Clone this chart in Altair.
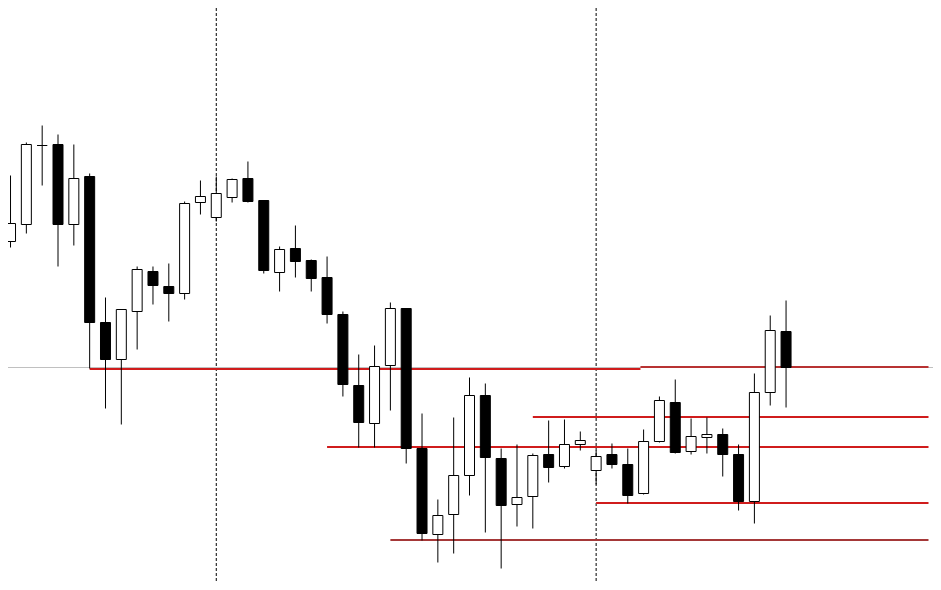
import altair as alt
import pandas as pd

# ---- candle data ----
bar_index = list(range(50))
opens = [1.3349, 1.3366, 1.3445, 1.3446, 1.3366, 1.3414, 1.3268, 1.3231, 1.3279, 1.3319,
         1.3304, 1.3297, 1.3388, 1.3373, 1.3393, 1.3412, 1.3390, 1.3318, 1.3342, 1.3330,
         1.3313, 1.3276, 1.3205, 1.3167, 1.3225, 1.3282, 1.3142, 1.3056, 1.3076, 1.3115,
         1.3195, 1.3132, 1.3086, 1.3094, 1.3136, 1.3124, 1.3146, 1.3120, 1.3136, 1.3126,
         1.3097, 1.3149, 1.3188, 1.3139, 1.3153, 1.3156, 1.3136, 1.3089, 1.3198, 1.3259]
highs = [1.3415, 1.3448, 1.3465, 1.3456, 1.3446, 1.3417, 1.3293, 1.3281, 1.3324, 1.3324,
         1.3327, 1.3389, 1.3410, 1.3414, 1.3412, 1.3429, 1.3390, 1.3344, 1.3365, 1.3331,
         1.3334, 1.3279, 1.3236, 1.3245, 1.3288, 1.3282, 1.3177, 1.3091, 1.3173, 1.3213,
         1.3207, 1.3142, 1.3146, 1.3137, 1.3170, 1.3171, 1.3159, 1.3140, 1.3147, 1.3142,
         1.3161, 1.3194, 1.3211, 1.3172, 1.3173, 1.3162, 1.3146, 1.3217, 1.3275, 1.3290]
lows = [1.3343, 1.3357, 1.3405, 1.3324, 1.3345, 1.3222, 1.3182, 1.3166, 1.3241, 1.3286,
        1.3269, 1.3291, 1.3376, 1.3369, 1.3388, 1.3388, 1.3317, 1.3299, 1.3313, 1.3299,
        1.3267, 1.3194, 1.3143, 1.3143, 1.3180, 1.3127, 1.3050, 1.3028, 1.3037, 1.3095,
        1.3058, 1.3022, 1.3064, 1.3062, 1.3108, 1.3122, 1.3140, 1.3106, 1.3122, 1.3087,
        1.3096, 1.3148, 1.3137, 1.3136, 1.3137, 1.3114, 1.3080, 1.3067, 1.3185, 1.3183]
closes = [1.3367, 1.3446, 1.3445, 1.3366, 1.3412, 1.3268, 1.3231, 1.3281, 1.3321, 1.3305,
          1.3297, 1.3387, 1.3394, 1.3397, 1.3411, 1.3389, 1.3320, 1.3341, 1.3329, 1.3312,
          1.3276, 1.3206, 1.3168, 1.3224, 1.3282, 1.3142, 1.3057, 1.3075, 1.3115, 1.3195,
          1.3133, 1.3085, 1.3093, 1.3135, 1.3123, 1.3146, 1.3150, 1.3134, 1.3126, 1.3095,
          1.3149, 1.3190, 1.3138, 1.3154, 1.3156, 1.3136, 1.3089, 1.3198, 1.3260, 1.3223]

# ---- horizontal levels ----
level_price = [1.32215, 1.32235, 1.31735, 1.31435, 1.30875, 1.30505]
level_start = [5, 39.8, 33, 20, 37, 24]
level_end = [39.8, 58, 58, 58, 58, 58]
level_color = ["#d01c1c", "#b83232", "#d01c1c", "#d01c1c", "#d01c1c", "#a53838"]

# ---- period separators & bid line ----
separators = [13, 37]
bid_price = [1.3223]

W, H = 925, 574
X_DOMAIN = [0.15625, 57.96875]
Y_DOMAIN = [1.30085, 1.35825]

candles = pd.DataFrame({"i": bar_index, "open": opens, "high": highs,
                        "low": lows, "close": closes})
candles["body"] = ["#ffffff" if c >= o else "#000000" for o, c in zip(opens, closes)]
levels = pd.DataFrame({"price": level_price, "start": level_start,
                       "end": level_end, "color": level_color})
seps = pd.DataFrame({"i": separators})
bid = pd.DataFrame({"price": bid_price})

xs = alt.Scale(domain=X_DOMAIN, nice=False, zero=False)
ys = alt.Scale(domain=Y_DOMAIN, nice=False, zero=False)

sep_layer = alt.Chart(seps).mark_rule(color="black", strokeWidth=1, strokeDash=[3, 2]).encode(
    x=alt.X("i:Q", scale=xs, axis=None),
    y=alt.value(0), y2=alt.value(H))

bid_layer = alt.Chart(bid).mark_rule(color="#c0c0c0", strokeWidth=1).encode(
    y=alt.Y("price:Q", scale=ys, axis=None),
    x=alt.value(0), x2=alt.value(W))

level_layer = alt.Chart(levels).mark_rule(strokeWidth=2).encode(
    x=alt.X("start:Q", scale=xs, axis=None),
    x2="end:Q",
    y=alt.Y("price:Q", scale=ys, axis=None),
    color=alt.Color("color:N", scale=None))

wick_layer = alt.Chart(candles).mark_rule(color="black", strokeWidth=1).encode(
    x=alt.X("i:Q", scale=xs, axis=None),
    y=alt.Y("low:Q", scale=ys, axis=None),
    y2="high:Q")

body_layer = alt.Chart(candles).mark_bar(width=10, stroke="black", strokeWidth=1).encode(
    x=alt.X("i:Q", scale=xs, axis=None),
    y=alt.Y("open:Q", scale=ys, axis=None),
    y2="close:Q",
    fill=alt.Fill("body:N", scale=None))

chart = alt.layer(sep_layer, bid_layer, level_layer, wick_layer, body_layer).properties(
    width=W, height=H,
    autosize=alt.AutoSizeParams(type="none"),
    padding=0,
    background="white",
).configure_view(strokeWidth=0)

chart.save("out.html", embed_options={"renderer": "svg", "actions": False})
